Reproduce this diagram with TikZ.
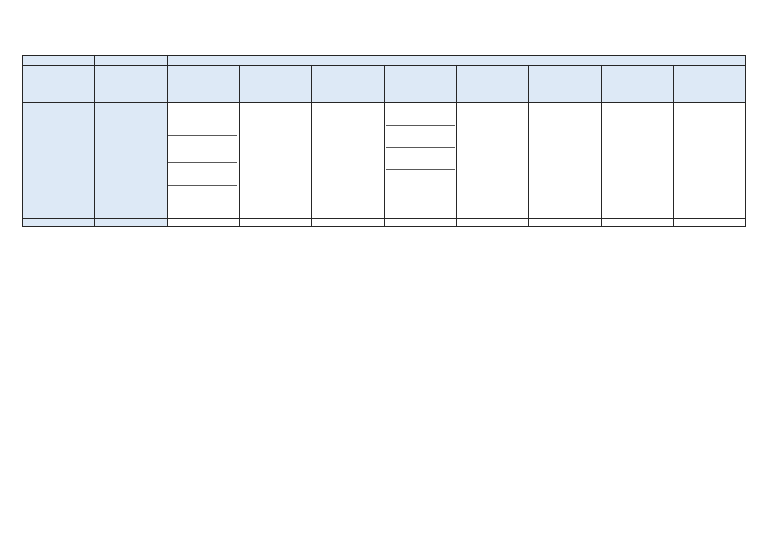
\documentclass[tikz,border=0pt]{standalone}
\begin{document}
\begin{tikzpicture}[x=1pt,y=-1pt,line width=0.9pt]
\definecolor{hdr}{RGB}{221,233,246}
\tikzset{grid/.style={draw=black!85},inner/.style={draw=black!65,line width=0.8pt}}
\useasboundingbox (0,0) rectangle (768,543);
\fill[hdr] (22,55) rectangle (745,102);
\fill[hdr] (22,102) rectangle (167,226);
\draw[grid] (22,55) rectangle (745,226);
\foreach \y in {65,102,218} \draw[grid] (22,\y) -- (745,\y);
\draw[grid] (94.5,55) -- (94.5,226);
\draw[grid] (167,55) -- (167,226);
\foreach \x in {239,311,384,456,528,601,673} \draw[grid] (\x,65) -- (\x,226);
\foreach \y in {135,162,185} \draw[inner] (168,\y) -- (237,\y);
\foreach \y in {125,147,169} \draw[inner] (386,\y) -- (455,\y);
\end{tikzpicture}
\end{document}
